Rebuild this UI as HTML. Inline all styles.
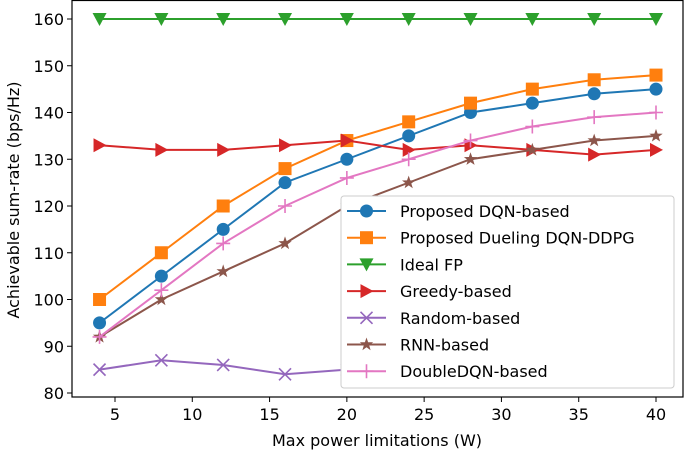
<!DOCTYPE html>
<html><head><meta charset="utf-8"><style>
body{margin:0;background:#fff}
svg{display:block;font-family:"DejaVu Sans","Liberation Sans",sans-serif}
</style></head><body>
<svg id="chart" width="685" height="453"></svg>
<script>
const xVals=[4,8,12,16,20,24,28,32,36,40];
const seriesNames=["Proposed DQN-based","Proposed Dueling DQN-DDPG","Ideal FP","Greedy-based","Random-based","RNN-based","DoubleDQN-based"];
const dqn=[95,105,115,125,130,135,140,142,144,145];
const dueling=[100,110,120,128,134,138,142,145,147,148];
const ideal=[160,160,160,160,160,160,160,160,160,160];
const greedy=[133,132,132,133,134,132,133,132,131,132];
const random=[85,87,86,84,85,86,85,86,85,86];
const rnn=[92,100,106,112,120,125,130,132,134,135];
const ddqn=[92,102,112,120,126,130,134,137,139,140];
const xTicks=[5,10,15,20,25,30,35,40];
const yTicks=[80,90,100,110,120,130,140,150,160];
const colors=["#1f77b4","#ff7f0e","#2ca02c","#d62728","#9467bd","#8c564b","#e377c2"];
const markers=["circle","square","tridown","triright","x","star","plus"];
const allSeries=[dqn,dueling,ideal,greedy,random,rnn,ddqn];
const NS="http://www.w3.org/2000/svg";
const svg=document.getElementById('chart');
const L=72,R=683,T=0,B=397;
const xs=v=>115+(v-5)*(656-115)/35;
const ys=v=>393-(v-80)*(393-19)/80;
function mk(t,a,p){const e=document.createElementNS(NS,t);for(const k in a)e.setAttribute(k,a[k]);(p||svg).appendChild(e);return e;}
function marker(g,type,x,y,c){
 let e;
 if(type==="circle")e=mk('circle',{cx:x,cy:y,r:6.5,fill:c},g);
 else if(type==="square")e=mk('rect',{x:x-6.5,y:y-6.5,width:13,height:13,fill:c},g);
 else if(type==="tridown")e=mk('polygon',{points:`${x-7},${y-6} ${x+7},${y-6} ${x},${y+7}`,fill:c},g);
 else if(type==="triright")e=mk('polygon',{points:`${x-6},${y-7} ${x-6},${y+7} ${x+7},${y}`,fill:c},g);
 else if(type==="x")e=mk('path',{d:`M${x-6},${y-6}L${x+6},${y+6}M${x-6},${y+6}L${x+6},${y-6}`,stroke:c,'stroke-width':1.6,fill:'none'},g);
 else if(type==="plus")e=mk('path',{d:`M${x-7},${y}L${x+7},${y}M${x},${y-7}L${x},${y+7}`,stroke:c,'stroke-width':1.6,fill:'none'},g);
 else {let p=[];for(let i=0;i<10;i++){const r=i%2?2.8:7,a=-Math.PI/2+i*Math.PI/5;p.push((x+r*Math.cos(a)).toFixed(1)+','+(y+r*Math.sin(a)).toFixed(1));}
  e=mk('polygon',{points:p.join(' '),fill:c},g);}
 return e;
}
xTicks.forEach(t=>{const g=mk('g',{});
 
 
 mk('line',{x1:xs(t),x2:xs(t),y1:B,y2:B+5,stroke:'#000','stroke-width':1},g);
 const tx=mk('text',{x:xs(t),y:B+23,'text-anchor':'middle','font-size':16},g);tx.textContent=t;});
yTicks.forEach(t=>{const g=mk('g',{});
 
 
 mk('line',{x1:L-5,x2:L,y1:ys(t),y2:ys(t),stroke:'#000','stroke-width':1},g);
 const tx=mk('text',{x:L-8,y:ys(t)+6,'text-anchor':'end','font-size':16},g);tx.textContent=t;});
allSeries.forEach((s,i)=>{const g=mk('g',{});
 
 
 mk('polyline',{points:s.map((v,j)=>xs(xVals[j])+','+ys(v)).join(' '),fill:'none',stroke:colors[i],'stroke-width':2},g);
 s.forEach((v,j)=>marker(g,markers[i],xs(xVals[j]),ys(v),colors[i]));});
const fr=mk('rect',{x:L,y:T+0.5,width:R-L,height:B-T-0.5,fill:'none',stroke:'#000','stroke-width':1.2});


const lg=mk('g',{});


mk('rect',{x:341,y:196,width:333,height:192,rx:3,fill:'#fff',stroke:'#ccc'},lg);
seriesNames.forEach((n,i)=>{const y=211+i*26.7;const g=mk('g',{},lg);
 
 
 mk('line',{x1:347,x2:386,y1:y,y2:y,stroke:colors[i],'stroke-width':2},g);
 marker(g,markers[i],366.5,y,colors[i]);
 const t=mk('text',{x:400,y:y+6,'font-size':16},g);t.textContent=n;});
const xl=mk('text',{x:377,y:446,'text-anchor':'middle','font-size':16});xl.textContent="Max power limitations (W)";

const yl=mk('text',{x:0,y:0,'text-anchor':'middle','font-size':16,transform:'translate(19,200) rotate(-90)'});yl.textContent="Achievable sum-rate (bps/Hz)";

</script>
</body></html>
